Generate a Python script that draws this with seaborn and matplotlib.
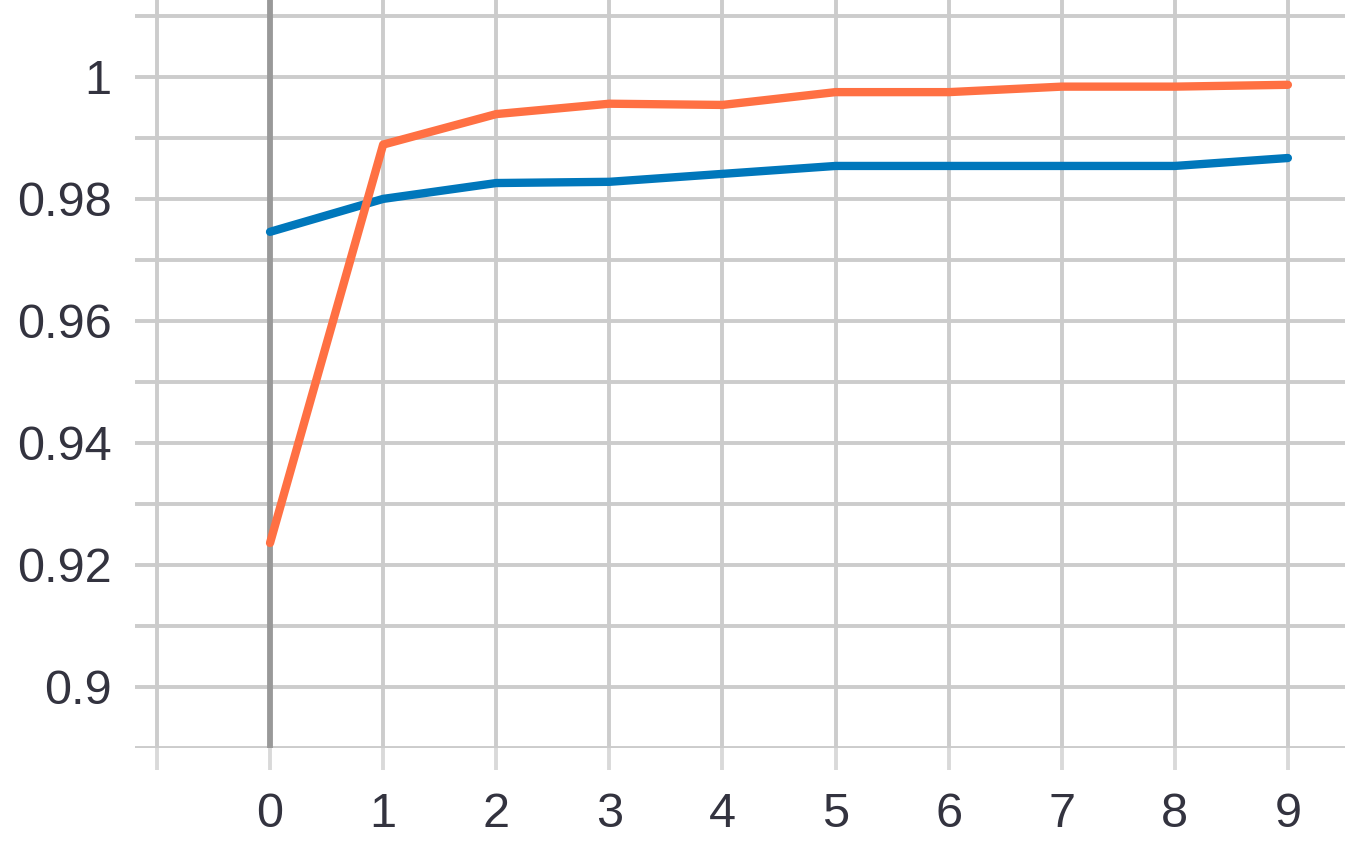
import pandas as pd
import seaborn as sns
import matplotlib.pyplot as plt
import numpy as np

# data
epochs = list(range(10))
blue_vals = [0.9746, 0.9800, 0.9826, 0.9828, 0.9841, 0.9854, 0.9854, 0.9854, 0.9854, 0.9867]
orange_vals = [0.9236, 0.9889, 0.9939, 0.9956, 0.9954, 0.9975, 0.9975, 0.9984, 0.9984, 0.9987]
series_names = ['blue', 'orange']
y_label_ticks = [0.9, 0.92, 0.94, 0.96, 0.98, 1.0]
y_label_text = ['0.9', '0.92', '0.94', '0.96', '0.98', '1']

df = pd.DataFrame({
    'epoch': epochs * 2,
    'value': blue_vals + orange_vals,
    'series': [series_names[0]] * 10 + [series_names[1]] * 10,
})

sns.set_style('white')
plt.rcParams['font.family'] = ['Liberation Sans', 'DejaVu Sans']

fig = plt.figure(figsize=(13.45, 8.42), dpi=100)
ax = fig.add_axes([135 / 1345, 1 - 748 / 842, 1 - 135 / 1345, 748 / 842])

grid_c = '#cccccc'
# grid, one line every 0.01 and every epoch
for yv in np.arange(0.89, 1.0101, 0.01):
    ax.axhline(yv, color=grid_c, lw=2.8, zorder=0)
for xv in range(-1, 10):
    if xv == 0:
        ax.axvline(xv, color='#999999', lw=4.2, zorder=0.5)
    else:
        ax.axvline(xv, color=grid_c, lw=2.8, zorder=0)

sns.lineplot(data=df, x='epoch', y='value', hue='series',
             palette=['#0077bb', '#ff7043'], linewidth=6,
             legend=False, ax=ax, zorder=3)

ax.set_xlim(-1.194, 9.505)
ax.set_ylim(0.89, 1.0126)
ax.set_xticks(range(-1, 10))
ax.set_xticklabels([''] + [str(e) for e in epochs])
ax.set_yticks(y_label_ticks)
ax.set_yticklabels(y_label_text)
ax.tick_params(axis='x', bottom=True, direction='out', length=16, width=2.8,
               color='#d9d9d9', pad=16, labelsize=35, labelcolor='#33333f')
ax.tick_params(axis='y', left=False, length=0, pad=17, labelsize=35,
               labelcolor='#33333f')
ax.set_xlabel('')
ax.set_ylabel('')
for s in ax.spines.values():
    s.set_visible(False)

fig.savefig('out.png', dpi=100)
